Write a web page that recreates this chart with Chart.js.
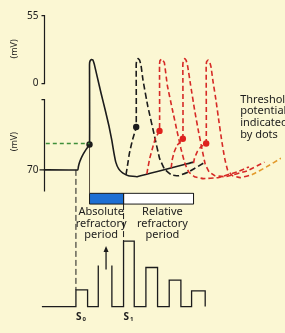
<!DOCTYPE html>
<html>
<head>
<meta charset="utf-8">
<script src="https://cdn.jsdelivr.net/npm/chart.js@4.4.0/dist/chart.umd.min.js"></script>
<style>
  html, body { margin: 0; padding: 0; background: #fbf7d3; }
  #wrap { width: 285px; height: 333px; position: relative; }
</style>
</head>
<body>
<div id="wrap"><canvas id="myChart"></canvas></div>
<script>
// time (ms, arbitrary), membrane potential (mV)
const ap1T = [4.1, 7.6, 7.65, 7.75, 7.9, 8.15, 8.45, 8.8, 8.8, 8.85, 9.0, 9.15, 9.3, 9.6, 10.0, 10.4, 10.8, 11.1, 11.3, 11.5, 11.8, 12.2, 12.8, 13.7, 19.5];
const ap1V = [-70, -70, -67.6, -64.5, -61.3, -57.3, -53.4, -49.4, 15.4, 18.2, 19.4, 19.0, 15.4, 5.2, -8.3, -21.0, -34.4, -46.3, -55.8, -63.7, -69.2, -72.4, -74.7, -75.5, -63.7];

const ap2T = [12.55, 12.7, 12.9, 13.2, 13.6, 13.6, 13.65, 13.8, 13.95, 14.1, 14.3, 14.8, 15.5, 16.0, 16.5, 17.2, 18.0, 19.0, 20.7];
const ap2V = [-74.0, -66.8, -56.6, -46.3, -35.2, 15.4, 18.6, 20.2, 19.0, 14.7, 2.8, -18.6, -43.1, -60.5, -69.2, -74.0, -74.7, -71.6, -63.7];

const red1T = [14.7, 14.8, 15.0, 15.3, 15.6, 16.0, 16.0, 16.05, 16.2, 16.35, 16.5, 16.8, 17.3, 17.8, 18.2, 18.6, 19.0, 19.6, 20.5, 22.0, 24.0, 25.2];
const red1V = [-73.2, -68.4, -60.5, -51.8, -43.9, -38.4, 15.4, 18.6, 19.8, 18.6, 17.0, -1.2, -20.2, -38.4, -52.6, -64.5, -71.6, -75.5, -77.1, -76.3, -71.6, -67.6];

const red2T = [17.2, 17.3, 17.5, 17.8, 18.4, 18.4, 18.45, 18.6, 18.75, 18.9, 19.2, 19.6, 20.0, 20.4, 20.7, 21.1, 21.7, 22.8, 25.0, 26.8];
const red2V = [-68.4, -62.1, -55.8, -50.2, -44.7, 15.4, 18.6, 20.2, 18.6, 13.9, -1.2, -21.0, -38.4, -54.2, -65.3, -71.6, -74.7, -75.5, -70.8, -63.7];

const red3T = [19.5, 19.6, 19.9, 20.3, 20.8, 20.8, 20.85, 21.0, 21.15, 21.3, 21.5, 21.8, 22.1, 22.4, 22.7, 23.0, 23.5, 24.3, 25.5, 27.0, 28.5];
const red3V = [-64.5, -60.5, -55.0, -51.0, -48.6, 14.7, 17.8, 19.0, 17.8, 13.5, 2.0, -13.0, -30.0, -46.3, -60.5, -70.0, -74.7, -76.3, -74.0, -67.6, -60.5];

// threshold dots
const blackDotT = [8.8, 13.6];
const blackDotV = [-49.4, -35.2];
const redDotT = [16.0, 18.4, 20.8];
const redDotV = [-38.4, -44.7, -48.6];
const thresholdMv = -48.6;

// refractory periods (ms)
const absolutePeriod = [8.8, 12.3];
const relativePeriod = [12.3, 19.5];

// stimulus train (arbitrary strength)
const stimStart = 3.9;
const pulseStart = [7.4, 9.7, 12.3, 14.6, 17.0, 19.3];
const pulseEnd = [8.6, 11.1, 13.4, 15.8, 18.2, 20.7];
const pulseAmp = [1.7, 4.2, 6.7, 4.0, 2.7, 1.6];
const pulseOpen = [false, true, false, false, false, false];

// axis ticks (mV)
const tickValues = [55, 0, -70];
const tickLabels = ['55', '0', '70'];

const pts = (ts, vs) => ts.map((t, i) => ({ x: t, y: vs[i] }));

function stimPoints() {
    const out = [{ x: stimStart, y: 0 }];
    pulseStart.forEach((s, i) => {
        out.push({ x: s, y: 0 }, { x: s, y: pulseAmp[i] });
        if (pulseOpen[i]) out.push({ x: (s + pulseEnd[i]) / 2, y: null });
        out.push({ x: pulseEnd[i], y: pulseAmp[i] }, { x: pulseEnd[i], y: 0 });
    });
    return out;
}

const barTop = 11.6, barBottom = 10.5;
function rect(p) {
    return [
        { x: p[0], y: barTop }, { x: p[1], y: barTop },
        { x: p[1], y: barBottom }, { x: p[0], y: barBottom }, { x: p[0], y: barTop }
    ];
}

const RED = '#d62a26';
const INK = '#1c1c1c';
const FONT = '"Noto Sans", "DejaVu Sans", sans-serif';

const decor = {
    id: 'decor',
    beforeDatasetsDraw(chart) {
        const { ctx, scales: { x, y, y2 } } = chart;
        ctx.save();
        ctx.strokeStyle = INK;
        ctx.lineWidth = 1;
        // guide from resting level down to S0
        ctx.setLineDash([6, 3]);
        ctx.beginPath();
        ctx.moveTo(x.getPixelForValue(pulseStart[0]), y.getPixelForValue(-70));
        ctx.lineTo(x.getPixelForValue(pulseStart[0]), y2.getPixelForValue(pulseAmp[0]));
        // guide from end of absolute period down to S1
        ctx.moveTo(x.getPixelForValue(absolutePeriod[1]), y2.getPixelForValue(barBottom));
        ctx.lineTo(x.getPixelForValue(absolutePeriod[1]), y2.getPixelForValue(pulseAmp[2]));
        ctx.stroke();
        // solid guide from first threshold dot to bar
        ctx.setLineDash([]);
        ctx.strokeStyle = '#5a5040';
        ctx.beginPath();
        ctx.moveTo(x.getPixelForValue(blackDotT[0]), y.getPixelForValue(blackDotV[0]));
        ctx.lineTo(x.getPixelForValue(blackDotT[0]), y2.getPixelForValue(barTop));
        ctx.stroke();
        ctx.restore();
    },
    afterDatasetsDraw(chart) {
        const { ctx, scales: { x, y, y2 } } = chart;
        ctx.save();
        const ax = Math.round(x.getPixelForValue(4.15)) + 0.5;
        ctx.strokeStyle = INK;
        ctx.lineWidth = 1.2;
        ctx.beginPath();
        // broken voltage axis
        ctx.moveTo(ax - 3, y.getPixelForValue(55));
        ctx.lineTo(ax, y.getPixelForValue(55));
        ctx.lineTo(ax, y.getPixelForValue(0));
        ctx.lineTo(ax - 3, y.getPixelForValue(0));
        ctx.moveTo(ax - 3, y.getPixelForValue(-13));
        ctx.lineTo(ax, y.getPixelForValue(-13));
        ctx.lineTo(ax, y.getPixelForValue(-87.5));
        ctx.moveTo(ax - 5, y.getPixelForValue(-70));
        ctx.lineTo(ax, y.getPixelForValue(-70));
        ctx.stroke();

        ctx.fillStyle = INK;
        ctx.font = '10px ' + FONT;
        ctx.textAlign = 'right';
        ctx.textBaseline = 'middle';
        tickValues.forEach((v, i) => ctx.fillText(tickLabels[i], ax - 6, y.getPixelForValue(v)));

        ctx.font = '9px ' + FONT;
        ctx.textAlign = 'center';
        [28.1, -47.1].forEach(v => {
            ctx.save();
            ctx.translate(x.getPixelForValue(1.1), y.getPixelForValue(v));
            ctx.rotate(-Math.PI / 2);
            ctx.fillText('(mV)', 0, 0);
            ctx.restore();
        });

        // period labels
        ctx.font = '11px ' + FONT;
        const rows = [9.7, 8.5, 7.3];
        ['Absolute', 'refractory', 'period'].forEach((s, i) =>
            ctx.fillText(s, x.getPixelForValue(10.0), y2.getPixelForValue(rows[i])));
        ['Relative', 'refractory', 'period'].forEach((s, i) =>
            ctx.fillText(s, x.getPixelForValue(16.3), y2.getPixelForValue(rows[i])));

        // threshold note
        ctx.textAlign = 'left';
        ['Threshold', 'potential', 'indicated', 'by dots'].forEach((s, i) =>
            ctx.fillText(s, x.getPixelForValue(24.3), y.getPixelForValue(-13 - 9.5 * i)));

        // stimulus labels
        [0, 2].forEach((k, j) => {
            const px = x.getPixelForValue(pulseStart[k]);
            const py = y2.getPixelForValue(-1.1);
            ctx.font = 'bold 10px ' + FONT;
            ctx.fillText('S', px, py);
            ctx.font = 'bold 6px ' + FONT;
            ctx.fillText(String(j), px + 6.5, py + 2.5);
        });

        // upward arrow
        const arX = x.getPixelForValue(10.5);
        const a0 = y2.getPixelForValue(3.8), a1 = y2.getPixelForValue(6.2);
        ctx.lineWidth = 1.3;
        ctx.beginPath();
        ctx.moveTo(arX, a0);
        ctx.lineTo(arX, a1 + 4);
        ctx.stroke();
        ctx.beginPath();
        ctx.moveTo(arX, a1);
        ctx.lineTo(arX - 2.5, a1 + 6);
        ctx.lineTo(arX + 2.5, a1 + 6);
        ctx.closePath();
        ctx.fill();
        ctx.restore();
    }
};

const line = (data, color, dash, extra) => Object.assign({
    type: 'line', data, borderColor: color, borderWidth: 1.6,
    borderDash: dash, pointRadius: 0, tension: 0.08, fill: false,
    borderJoinStyle: 'round'
}, extra || {});

const config = {
    type: 'line',
    data: {
        datasets: [
            line(rect(absolutePeriod), INK, [], { yAxisID: 'y2', backgroundColor: '#1d6fd3', fill: 'shape', tension: 0, borderWidth: 1, borderJoinStyle: 'miter' }),
            line(rect(relativePeriod), INK, [], { yAxisID: 'y2', backgroundColor: '#ffffff', fill: 'shape', tension: 0, borderWidth: 1, borderJoinStyle: 'miter' }),
            line(stimPoints(), INK, [], { yAxisID: 'y2', tension: 0, borderWidth: 1.3, spanGaps: false, borderJoinStyle: 'miter' }),
            line([{ x: 4.3, y: thresholdMv }, { x: blackDotT[0], y: thresholdMv }], '#3f8f3a', [4, 3], { tension: 0, borderWidth: 1.3 }),
            line(pts(red3T, red3V), RED, [5, 3], {
                segment: { borderColor: c => c.p0.parsed.x > 25.2 ? '#e39a2b' : undefined }
            }),
            line(pts(red2T, red2V), RED, [5, 3]),
            line(pts(red1T, red1V), RED, [5, 3]),
            line(pts(ap2T, ap2V), INK, [6, 3]),
            line(pts(ap1T, ap1V), INK, []),
            { type: 'scatter', data: pts(redDotT, redDotV), backgroundColor: '#e0201c', borderWidth: 0, pointRadius: 3.2 },
            { type: 'scatter', data: pts(blackDotT, blackDotV), backgroundColor: INK, borderWidth: 0, pointRadius: 3.2 }
        ]
    },
    options: {
        responsive: true,
        maintainAspectRatio: false,
        animation: false,
        layout: { padding: 0 },
        scales: {
            x: { type: 'linear', min: 0, max: 28.5, display: false },
            y: { type: 'linear', min: -199, max: 64.5, display: false },
            y2: { type: 'linear', min: -2.3, max: 31.0, display: false }
        },
        plugins: {
            legend: { display: false },
            tooltip: { enabled: false }
        }
    },
    plugins: [decor]
};

const myChart = new Chart(document.getElementById('myChart'), config);
</script>
</body>
</html>
